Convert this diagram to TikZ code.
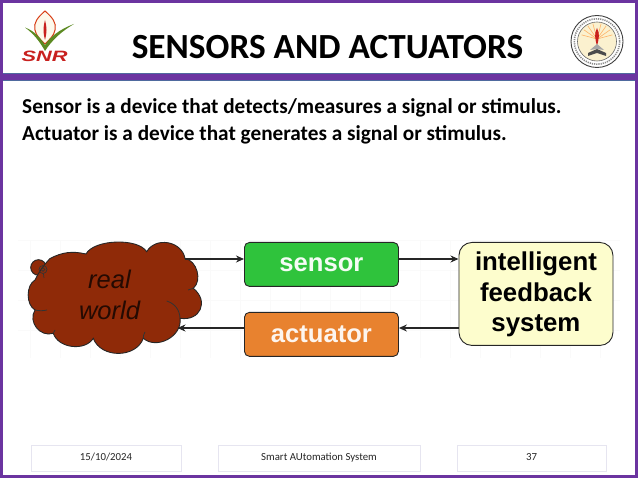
\documentclass[tikz,border=0pt]{standalone}
\usepackage{fontspec}
\setmainfont{Carlito}
\newfontfamily\arialfont{Liberation Sans}
\usetikzlibrary{positioning, arrows.meta, calc, backgrounds}
\definecolor{framePurple}{HTML}{6B34A0}
\definecolor{bandBlue}{HTML}{4F6A9E}
\definecolor{footLine}{HTML}{E6E5F0}
\definecolor{cloudRed}{HTML}{8F2A08}
\definecolor{sensorGreen}{HTML}{2FC33C}
\definecolor{actuatorOrange}{HTML}{E8822F}
\definecolor{feedbackYellow}{HTML}{FDFDCD}
\definecolor{logoRed}{HTML}{C8201E}
\definecolor{logoGreen}{HTML}{5C8A22}
\definecolor{sealCream}{HTML}{FBF1CF}
\tikzset{
  blockbox/.style={
    draw=black!85, line width=0.9pt, rounded corners=5pt, align=center,
    font=\arialfont\fontsize{25.6}{31}\selectfont\bfseries,
    minimum width=154pt, minimum height=44pt, inner sep=0pt
  },
  footbox/.style={
    draw=footLine, line width=1pt, align=center, font=\fontsize{10.8}{13}\selectfont,
    text height=15pt, text depth=11pt, inner sep=0pt, outer sep=0pt, text=black!85
  },
  % Cloud outline and the hooks inside it
  cloudline/.style={
    draw=black!85, line width=0.9pt, fill=cloudRed
  },
  cloudhook/.style={
    draw=black!80, line width=0.8pt
  },
  % Arrows of the loop
  flow/.style={
    -{Stealth[length=8pt,width=7pt]}, line width=1.2pt, draw=black!85
  },
  slidetext/.style={
    anchor=west, font=\fontsize{21.25}{26}\selectfont\bfseries, inner sep=0pt
  },
}
\begin{document}
\begin{tikzpicture}[x=1pt, y=-1pt, node distance=25pt and 37pt]
  \useasboundingbox (0,0) rectangle (638,478);
  \fill[white] (0,0) rectangle (638,478);

  %% -- Faint sheet grid --
  \draw[black!2, line width=0.5pt, xstep=30pt, ystep=30pt] (18,240) grid (620,358);

  %% -- Frame --
  \fill[framePurple] (0,0) rectangle (638,3.2);
  \fill[framePurple] (0,474.8) rectangle (638,478);
  \fill[framePurple] (0,0) rectangle (3.2,478);
  \fill[framePurple] (634.8,0) rectangle (638,478);
  \fill[framePurple] (3,74) rectangle (635,80);
  \fill[bandBlue] (3,73) rectangle (635,74.2);
  \fill[bandBlue] (3,79.6) rectangle (635,80.4);

  %% -- Title and text --
  \node[font=\fontsize{35.3}{40}\selectfont\bfseries, inner sep=0pt] (title) at (327.5,47) {SENSORS AND ACTUATORS};
  \node[slidetext] (lineA) at (22,108) {Sensor is a device that detects/measures a signal or stimulus.};
  \node[slidetext, below=8pt of lineA.south west, anchor=north west] (lineB) {Actuator is a device that generates a signal or stimulus.};

  %% -- Left logo --
  \draw[logoRed!70!orange, line width=1pt, fill=sealCream!40]
    (45,11) .. controls (38,17) and (33,23) .. (35,30) .. controls (36,36) and (41,40) .. (45,44)
    .. controls (49,40) and (54,36) .. (55,30) .. controls (57,23) and (52,17) .. (45,11) -- cycle;
  \fill[logoRed] (45,20) .. controls (43,27) and (43,33) .. (45,40) .. controls (47,33) and (47,27) .. (45,20) -- cycle;
  \fill[logoGreen] (25,27.5) .. controls (35,31) and (41,39) .. (45,45) .. controls (50,37) and (60,29) .. (74,24)
    .. controls (62,31) and (52,40) .. (45,51) .. controls (40,42) and (34,34) .. (25,27.5) -- cycle;
  \node[font=\arialfont\fontsize{15}{16}\selectfont\bfseries\itshape, text=logoRed, inner sep=0pt] (snr) at (44.5,56) {\scalebox{1.45}[1]{SNR}};

  %% -- Right seal --
  \draw[black!75, line width=0.9pt, fill=white] (597,41.5) circle (26);
  \draw[black!45, line width=1.6pt, dash pattern=on 1.2pt off 1pt] (597,41.5) circle (22.7);
  \draw[black!60, line width=0.6pt, fill=sealCream] (597,41.5) circle (19.5);
  \foreach \ang in {195,215,235,255,285,305,325,345}
    \draw[orange!60, line width=0.6pt] (597,39) -- ++(\ang:16);
  \fill[logoRed] (597,28) .. controls (594,34) and (595,38) .. (597,46) .. controls (599,38) and (600,34) .. (597,28) -- cycle;
  \fill[black!70] (588,53) -- (597,49) -- (606,53) -- (606,56) -- (597,53) -- (588,56) -- cycle;
  \fill[black!35] (590,50) -- (597,44) -- (604,50) -- (597,49) -- cycle;

  %% -- Cloud --
  \draw[cloudline] (38.5,267.5) circle (7.8);
  \draw[cloudline]
    (50,258.5) to[bend left=20] (86,254) to[bend left=60, looseness=.7] (146.7,251.7)
    to[bend left=70, looseness=1.17] (185,258.5) to[bend left=65] (193.3,288.3)
    to[bend left=75, looseness=1.6] (180,318.3) to[bend left=70, looseness=1.1] (143.3,338.3)
    to[bend left=70, looseness=1.1] (93.3,338.3) to[bend left=65] (53.3,333.3)
    to[bend left=70, looseness=1.2] (35,310) to[bend left=60, looseness=.9] (35,280)
    to[bend left=8] (50,258.5) -- cycle;
  \draw[cloudhook] (166.7,301) to[bend left=35] (180,318.3);
  \draw[cloudhook] (193.3,288.3) -- (188,290);
  \draw[cloudhook] (35,310) to[bend right=12] (47,310);
  \draw[cloudhook] (143.3,338.3) to[bend left=15] (145,332);
  \draw[cloudhook] (53.3,333.3) -- (55,330);
  \draw[black!80, line width=0.7pt] (43,269.5) circle (4);
  \draw[black!80, line width=0.7pt] (43,269.5) circle (1.8);
  \draw[black!80, line width=0.7pt] (43.5,274) -- (44,278);
  \node[font=\arialfont\fontsize{25.5}{31}\selectfont\itshape, text=black!75!cloudRed, align=center, inner sep=0pt] (world) at (109.5,295) {real\\world};
  \coordinate (cloudOut) at (185,259);
  \coordinate (cloudIn) at (177.5,328);

  %% -- Blocks --
  \node[blockbox, fill=sensorGreen, text=white!95!sensorGreen, anchor=north west] (sensor) at (244,242) {sensor};
  \node[blockbox, fill=actuatorOrange, text=white!92!actuatorOrange, below=of sensor] (actuator) {actuator};
  \node[blockbox, fill=feedbackYellow, text=black, rounded corners=13pt, minimum height=103pt, font=\arialfont\fontsize{25.8}{30.5}\selectfont\bfseries, anchor=north west] (feedback) at (458.5,242) {\rule{0pt}{20pt}intelligent\\feedback\\system};

  %% -- Connectors --
  \draw[flow] (cloudOut) -- (cloudOut -| sensor.west);
  \draw[flow] (sensor.east |- cloudOut) -- (feedback.west |- cloudOut);
  \draw[flow] (feedback.west |- cloudIn) -- (actuator.east |- cloudIn);
  \draw[flow] (actuator.west |- cloudIn) -- (cloudIn);

  %% -- Footer --
  \node[footbox, minimum width=150pt, anchor=north west] (footDate) at (31,446) {15/10/2024};
  \node[footbox, minimum width=202pt, right=of footDate] (footName) {Smart AUtomation System};
  \node[footbox, minimum width=149pt, right=of footName] (footPage) {37};
\end{tikzpicture}
\end{document}
